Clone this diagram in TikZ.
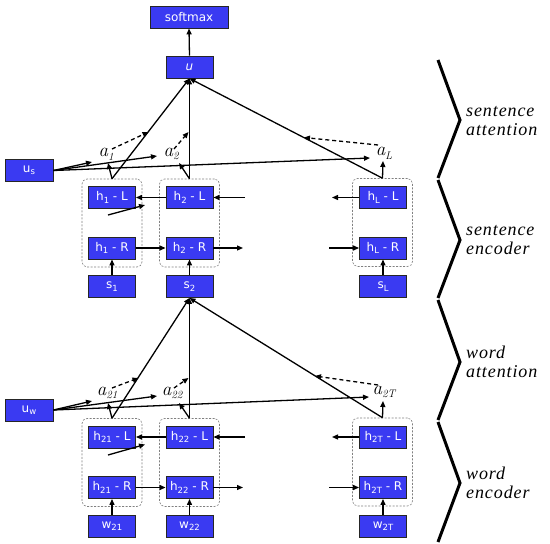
\documentclass[tikz,border=0pt]{standalone}
\usepackage{fontspec}
\newfontfamily\boxfont{DejaVu Sans}
\newfontfamily\labfont[LetterSpace=5]{Liberation Serif}
\usetikzlibrary{arrows.meta}
\definecolor{boxblue}{RGB}{58,58,242}
\newcommand\sbx[1]{\raisebox{-0.35ex}{\fontsize{8.5}{9}\selectfont #1}}
\newcommand\asub[1]{\raisebox{-0.45ex}{\fontsize{11}{11}\selectfont #1}}
\tikzset{
 blk/.style={draw=black!85, line width=0.9pt, fill=boxblue, text=white, minimum height=22pt, minimum width=47pt, inner sep=0pt, font=\boxfont\fontsize{12}{14}\selectfont},
 grp/.style={draw=gray, dash pattern=on 2pt off 1.5pt, rounded corners=5pt, line width=0.6pt, minimum width=60pt, minimum height=88pt, inner sep=0pt},
 arr/.style={line width=1.3pt, -{Triangle[length=6pt,width=5pt]}},
 dsh/.style={arr, dash pattern=on 4pt off 3pt},
 brace/.style={line width=3pt},
 lab/.style={align=left, anchor=west, font=\labfont\itshape\fontsize{18}{19}\selectfont, inner sep=0pt},
 alab/.style={inner sep=0pt, font=\itshape\fontsize{19}{20}\selectfont}
}
\begin{document}
\begin{tikzpicture}[x=1pt,y=-1pt]
\useasboundingbox (0,0) rectangle (550,544);
% ---------- sentence level ----------
\node[blk, minimum width=78pt] (softmax) at (189,17) {softmax};
\node[blk] (u) at (189.5,67) {\textit{u}};
\node[blk, minimum width=48pt] (us) at (29,170.5) {u\sbx{s}};
\node[grp] (c1) at (112,223) {};
\node[grp] (c2) at (189.5,223) {};
\node[grp] (cL) at (382.5,222.5) {};
\node[blk] (h1L) at (112,197.5) {h\sbx{1} - L};
\node[blk] (h2L) at (189.5,197.5) {h\sbx{2} - L};
\node[blk] (hLL) at (383,197.5) {h\sbx{L} - L};
\node[blk] (h1R) at (112,248) {h\sbx{1} - R};
\node[blk] (h2R) at (189.5,248) {h\sbx{2} - R};
\node[blk] (hLR) at (383,248) {h\sbx{L} - R};
\node[blk] (s1) at (112,286.5) {s\sbx{1}};
\node[blk] (s2) at (189.5,286.5) {s\sbx{2}};
\node[blk] (sL) at (383,286.5) {s\sbx{L}};
\node[alab] (a1) at (106,154) {a\asub{1}};
\node[alab] (a2) at (171,154) {a\asub{2}};
\node[alab] (aL) at (384,153) {a\asub{L}};
\coordinate (a1in) at (92,162);
\coordinate (a2in) at (157,156);
\coordinate (aLin) at (370,158);
\coordinate (a1up) at (108,163);
\coordinate (a2up) at (179,163);
\coordinate (aLup) at (383,161);
\coordinate (a1d) at (112,149);
\coordinate (a1e) at (148.5,132);
\coordinate (a2d) at (174,149);
\coordinate (a2e) at (188.5,132);
\coordinate (aLd) at (378,145);
\coordinate (aLe) at (304,137.5);
\coordinate (st1a) at (108,215);
\coordinate (st1b) at (145,205);
\coordinate (inL2) at (245,197.5);
\coordinate (outLL) at (332,197.5);
\coordinate (outR2) at (243,248);
\coordinate (inRL) at (329,248);
\draw[arr] (u.north) -- (softmax.south);
\draw[arr] (c1.north) -- (u.south);
\draw[arr] (c2.north) -- (u.south);
\draw[arr] (cL.north) -- (u.south);
\draw[arr] (c1.north) -- (a1up);
\draw[arr] (c2.north) -- (a2up);
\draw[arr] (cL.north) -- (aLup);
\draw[arr] (us.east) -- (a1in);
\draw[arr] (us.east) -- (a2in);
\draw[arr] (us.east) -- (aLin);
\draw[dsh] (a1d) -- (a1e);
\draw[dsh] (a2d) -- (a2e);
\draw[dsh] (aLd) -- (aLe);
\draw[arr] (st1a) -- (st1b);
\draw[arr] (h2L.west) -- (h1L.east);
\draw[arr] (inL2) -- (h2L.east);
\draw[arr] (hLL.west) -- (outLL);
\draw[arr] (h1R.east) -- (h2R.west);
\draw[arr] (h2R.east) -- (outR2);
\draw[arr] (inRL) -- (hLR.west);
\draw[arr] (s1.north) -- (h1R.south);
\draw[arr] (s2.north) -- (h2R.south);
\draw[arr] (sL.north) -- (hLR.south);
% ---------- word level ----------
\node[blk, minimum width=48pt] (uw) at (29,410) {u\sbx{w}};
\node[grp] (c21) at (112,462.5) {};
\node[grp] (c22) at (189.5,462.5) {};
\node[grp] (c2T) at (382.5,462) {};
\node[blk] (h21L) at (112,437) {h\sbx{21} - L};
\node[blk] (h22L) at (189.5,437) {h\sbx{22} - L};
\node[blk] (h2TL) at (383,437) {h\sbx{2T} - L};
\node[blk] (h21R) at (112,487.5) {h\sbx{21} - R};
\node[blk] (h22R) at (189.5,487.5) {h\sbx{22} - R};
\node[blk] (h2TR) at (383,487.5) {h\sbx{2T} - R};
\node[blk] (w21) at (112,526) {w\sbx{21}};
\node[blk] (w22) at (189.5,526) {w\sbx{22}};
\node[blk] (w2T) at (383,526) {w\sbx{2T}};
\node[alab] (a21) at (107,393) {a\asub{21}};
\node[alab] (a22) at (172,393) {a\asub{22}};
\node[alab] (a2T) at (384,392) {a\asub{2T}};
\coordinate (a21in) at (92,401);
\coordinate (a22in) at (157,396);
\coordinate (a2Tin) at (369,397);
\coordinate (a21up) at (108,403);
\coordinate (a22up) at (179,403);
\coordinate (a2Tup) at (383,401);
\coordinate (a21d) at (112,388);
\coordinate (a21e) at (138.5,378);
\coordinate (a22d) at (174,388);
\coordinate (a22e) at (188.5,378);
\coordinate (a2Td) at (378,385);
\coordinate (a2Te) at (315,376);
\coordinate (st2a) at (108,455);
\coordinate (st2b) at (145,444.5);
\coordinate (inL22) at (245,437);
\coordinate (outL2T) at (332,437);
\coordinate (outR22) at (243,487.5);
\coordinate (inR2T) at (329,487.5);
\draw[arr] (c21.north) -- (s2.south);
\draw[arr] (c22.north) -- (s2.south);
\draw[arr] (c2T.north) -- (s2.south);
\draw[arr] (c21.north) -- (a21up);
\draw[arr] (c22.north) -- (a22up);
\draw[arr] (c2T.north) -- (a2Tup);
\draw[arr] (uw.east) -- (a21in);
\draw[arr] (uw.east) -- (a22in);
\draw[arr] (uw.east) -- (a2Tin);
\draw[dsh] (a21d) -- (a21e);
\draw[dsh] (a22d) -- (a22e);
\draw[dsh] (a2Td) -- (a2Te);
\draw[arr] (st2a) -- (st2b);
\draw[arr] (h22L.west) -- (h21L.east);
\draw[arr] (inL22) -- (h22L.east);
\draw[arr] (h2TL.west) -- (outL2T);
\draw[arr] (h21R.east) -- (h22R.west);
\draw[arr] (h22R.east) -- (outR22);
\draw[arr] (inR2T) -- (h2TR.west);
\draw[arr] (w21.north) -- (h21R.south);
\draw[arr] (w22.north) -- (h22R.south);
\draw[arr] (w2T.north) -- (h2TR.south);
% ---------- braces and labels ----------
\draw[brace] (438,60) -- (460,120) -- (438,178);
\draw[brace] (438,180) -- (460,240) -- (438,298);
\draw[brace] (438,300) -- (460,362) -- (438,420);
\draw[brace] (438,422) -- (460,483) -- (438,542);
\node[lab] (lsa) at (466,121) {sentence\\attention};
\node[lab] (lse) at (466,240) {sentence\\encoder};
\node[lab] (lwa) at (466,362) {word\\attention};
\node[lab] (lwe) at (466,483) {word\\encoder};
\end{tikzpicture}
\end{document}
